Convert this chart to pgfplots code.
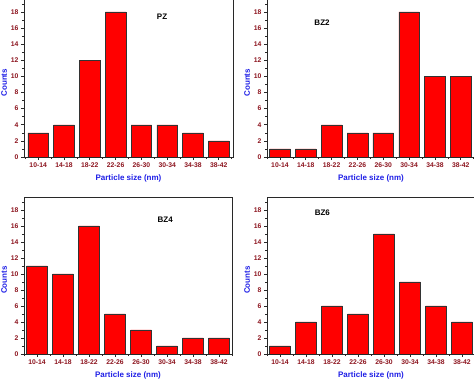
\documentclass[border=0pt]{standalone}
\usepackage{pgfplots}
\pgfplotsset{compat=1.18}
\usepackage{fontspec}
\setmainfont{Liberation Sans}
\definecolor{tickred}{RGB}{140,20,30}
\definecolor{labblue}{RGB}{30,30,230}
\definecolor{framegray}{RGB}{40,40,40}
\pgfplotsset{
  hist/.style={
    scale only axis, width=208pt, height=157pt,
    ybar, bar width=0.8,
    ymin=0, ymax=19.6,
    xmin=-0.5, xmax=7.5,
    xtick={0,...,7},
    xticklabels={10-14,14-18,18-22,22-26,26-30,30-34,34-38,38-42},
    minor xtick={-0.5,0.5,...,7.5},
    ytick={0,2,...,18},
    minor ytick={1,3,...,19},
    tick align=outside, xtick pos=bottom, ytick pos=left,
    major tick length=3pt, minor tick length=2pt,
    tick style={framegray, line width=0.6pt},
    axis line style={framegray, line width=0.9pt},
    ticklabel style={font=\bfseries\fontsize{6.8}{7.5}\selectfont, text=tickred},
    /pgf/number format/assume math mode=true,
    xticklabel style={yshift=1pt},
    yticklabel style={xshift=1pt},
    xlabel={Particle size (nm)}, ylabel={Counts},
    every axis x label/.style={at={(rel axis cs:0.5,0)}, yshift=-21pt, anchor=center,
      font=\bfseries\fontsize{8}{9}\selectfont, text=labblue},
    every axis y label/.style={at={(rel axis cs:0,0.47)}, xshift=-20pt, rotate=90, anchor=center,
      font=\bfseries\fontsize{8}{9}\selectfont, text=labblue},
    axis on top,
  },
  barst/.style={fill=red, draw=black!80, line width=0.45pt},
}
\begin{document}
\begin{tikzpicture}[x=1pt,y=1pt]
\clip (0,0) rectangle (474,381);
% top-left
\begin{axis}[hist, at={(24pt,224pt)}, anchor=south west, width=209pt, height=158pt, xmin=-0.55, xmax=7.55]
\addplot[barst] coordinates {(0,3) (1,4) (2,12) (3,18) (4,4) (5,4) (6,3) (7,2)};
\node[font=\bfseries\fontsize{8}{9}\selectfont] at (axis cs:4.8,17.4) {PZ};
\end{axis}
% top-right
\begin{axis}[hist, at={(267pt,224pt)}, anchor=south west, height=158pt, xmax=7.55]
\addplot[barst] coordinates {(0,1) (1,1) (2,4) (3,3) (4,3) (5,18) (6,10) (7,10)};
\node[font=\bfseries\fontsize{8}{9}\selectfont] at (axis cs:1.63,16.7) {BZ2};
\end{axis}
% bottom-left
\begin{axis}[hist, at={(24pt,27pt)}, anchor=south west]
\addplot[barst] coordinates {(0,11) (1,10) (2,16) (3,5) (4,3) (5,1) (6,2) (7,2)};
\node[font=\bfseries\fontsize{8}{9}\selectfont] at (axis cs:4.93,16.75) {BZ4};
\end{axis}
% bottom-right
\begin{axis}[hist, at={(267pt,27pt)}, anchor=south west]
\addplot[barst] coordinates {(0,1) (1,4) (2,6) (3,5) (4,15) (5,9) (6,6) (7,4)};
\node[font=\bfseries\fontsize{8}{9}\selectfont] at (axis cs:1.63,17.6) {BZ6};
\end{axis}
\end{tikzpicture}
\end{document}
